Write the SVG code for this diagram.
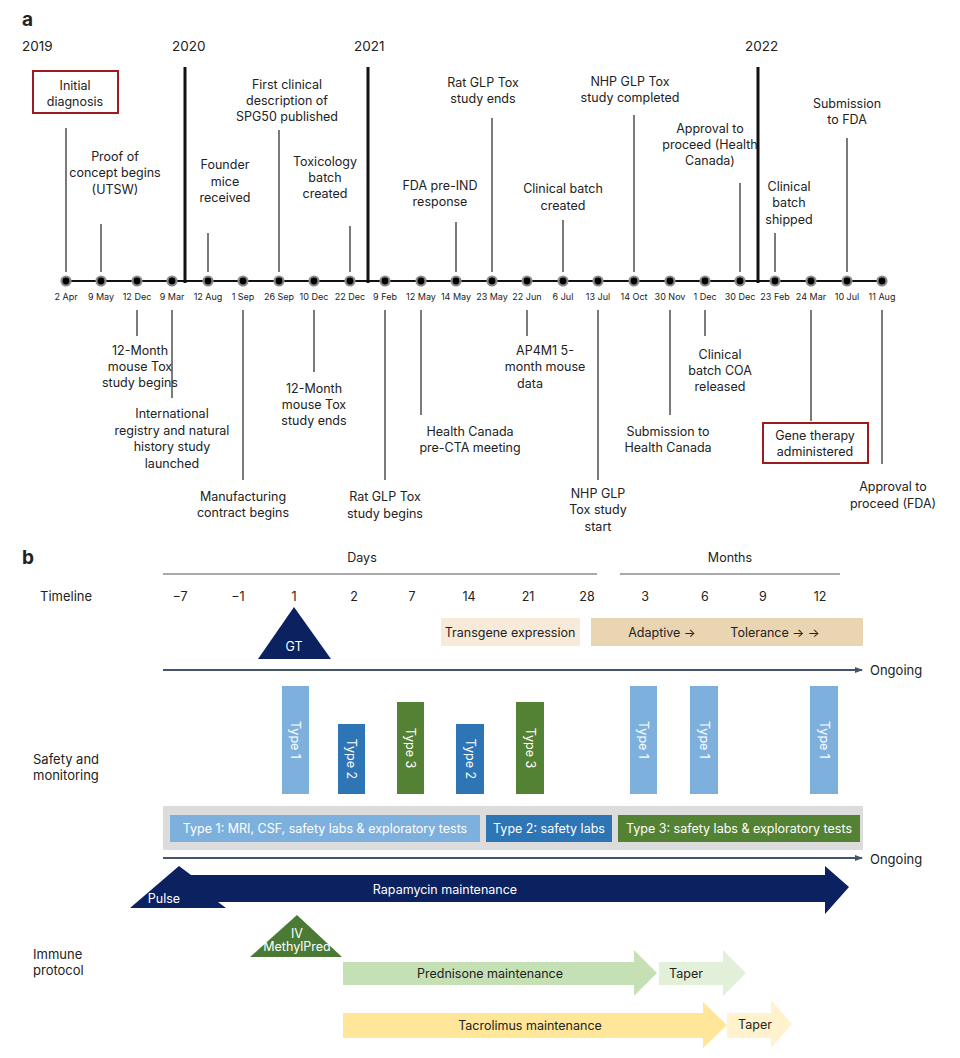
<svg xmlns="http://www.w3.org/2000/svg" width="960" height="1058" viewBox="0 0 960 1058">
<defs>
<style>
text{font-family:Inter,"Liberation Sans",sans-serif;fill:#222}
.l{font-size:12.5px;text-anchor:middle}
.d{font-size:9px;text-anchor:middle}
.y{font-size:13.5px}
.st{stroke:#222;stroke-width:1.2}
.yr{stroke:#111;stroke-width:3}
.n{fill:#000;stroke:#8a8a8a;stroke-width:2.2}
.h{font-size:19px;font-weight:bold}
.w{fill:#fff;font-size:12.5px;text-anchor:middle}
.t1{fill:#7eb0de}.t2{fill:#2e75b6}.t3{fill:#548235}
</style>
<marker id="ar" markerWidth="8" markerHeight="8" refX="7" refY="4" orient="auto" markerUnits="userSpaceOnUse"><path d="M0,1 L8,4 L0,7 Z" fill="#44546a"/></marker>
</defs>
<rect width="960" height="1058" fill="#fff"/>
<text class="h" x="22" y="26">a</text>
<text class="y" x="22" y="51">2019</text><text class="y" x="172" y="51">2020</text><text class="y" x="354" y="51">2021</text><text class="y" x="745" y="51">2022</text>
<g id="connectors">
<line x1="66" y1="281" x2="882" y2="281" stroke="#111" stroke-width="2"/>
<line class="yr" x1="185" y1="67" x2="185" y2="283"/><line class="yr" x1="368" y1="67" x2="368" y2="283"/><line class="yr" x1="758" y1="67" x2="758" y2="283"/>
<g class="st">
<line x1="66" y1="128" x2="66" y2="272"/><line x1="101" y1="224" x2="101" y2="272"/><line x1="208" y1="233" x2="208" y2="272"/><line x1="279" y1="130" x2="279" y2="272"/><line x1="350" y1="226" x2="350" y2="272"/><line x1="456" y1="222" x2="456" y2="272"/><line x1="492" y1="118" x2="492" y2="272"/><line x1="563" y1="220" x2="563" y2="272"/><line x1="634" y1="115" x2="634" y2="272"/><line x1="740" y1="183" x2="740" y2="272"/><line x1="775" y1="233" x2="775" y2="272"/><line x1="847" y1="138" x2="847" y2="272"/>
<line x1="137" y1="310" x2="137" y2="336"/><line x1="172" y1="310" x2="172" y2="398"/><line x1="243" y1="310" x2="243" y2="480"/><line x1="314" y1="310" x2="314" y2="372"/><line x1="385" y1="310" x2="385" y2="480"/><line x1="421" y1="310" x2="421" y2="415"/><line x1="527" y1="310" x2="527" y2="336"/><line x1="598" y1="310" x2="598" y2="480"/><line x1="670" y1="310" x2="670" y2="415"/><line x1="705" y1="310" x2="705" y2="336"/><line x1="811" y1="310" x2="811" y2="421"/><line x1="882" y1="310" x2="882" y2="464"/>
</g>
<line x1="163" y1="670" x2="862" y2="670" stroke="#44546a" stroke-width="2" marker-end="url(#ar)"/>
<line x1="163" y1="858" x2="862" y2="858" stroke="#44546a" stroke-width="2" marker-end="url(#ar)"/>
</g>
<g id="nodes">
<g><circle class="n" cx="66" cy="281" r="4.5"/><circle class="n" cx="101" cy="281" r="4.5"/><circle class="n" cx="137" cy="281" r="4.5"/><circle class="n" cx="172" cy="281" r="4.5"/><circle class="n" cx="208" cy="281" r="4.5"/><circle class="n" cx="243" cy="281" r="4.5"/><circle class="n" cx="279" cy="281" r="4.5"/><circle class="n" cx="314" cy="281" r="4.5"/><circle class="n" cx="350" cy="281" r="4.5"/><circle class="n" cx="385" cy="281" r="4.5"/><circle class="n" cx="421" cy="281" r="4.5"/><circle class="n" cx="456" cy="281" r="4.5"/><circle class="n" cx="492" cy="281" r="4.5"/><circle class="n" cx="527" cy="281" r="4.5"/><circle class="n" cx="563" cy="281" r="4.5"/><circle class="n" cx="598" cy="281" r="4.5"/><circle class="n" cx="634" cy="281" r="4.5"/><circle class="n" cx="670" cy="281" r="4.5"/><circle class="n" cx="705" cy="281" r="4.5"/><circle class="n" cx="740" cy="281" r="4.5"/><circle class="n" cx="775" cy="281" r="4.5"/><circle class="n" cx="811" cy="281" r="4.5"/><circle class="n" cx="847" cy="281" r="4.5"/><circle class="n" cx="882" cy="281" r="4.5"/></g>
<g><text class="d" x="66" y="300">2 Apr</text><text class="d" x="101" y="300">9 May</text><text class="d" x="137" y="300">12 Dec</text><text class="d" x="172" y="300">9 Mar</text><text class="d" x="208" y="300">12 Aug</text><text class="d" x="243" y="300">1 Sep</text><text class="d" x="279" y="300">26 Sep</text><text class="d" x="314" y="300">10 Dec</text><text class="d" x="350" y="300">22 Dec</text><text class="d" x="385" y="300">9 Feb</text><text class="d" x="421" y="300">12 May</text><text class="d" x="456" y="300">14 May</text><text class="d" x="492" y="300">23 May</text><text class="d" x="527" y="300">22 Jun</text><text class="d" x="563" y="300">6 Jul</text><text class="d" x="598" y="300">13 Jul</text><text class="d" x="634" y="300">14 Oct</text><text class="d" x="670" y="300">30 Nov</text><text class="d" x="705" y="300">1 Dec</text><text class="d" x="740" y="300">30 Dec</text><text class="d" x="775" y="300">23 Feb</text><text class="d" x="811" y="300">24 Mar</text><text class="d" x="847" y="300">10 Jul</text><text class="d" x="882" y="300">11 Aug</text></g>
<g id="n-diag"><rect x="33" y="71" width="85" height="42" fill="none" stroke="#9b1b1f" stroke-width="2"/><text class="l" x="75" y="90">Initial</text><text class="l" x="75" y="106">diagnosis</text></g>
<g id="n-poc"><text class="l" x="115" y="161">Proof of</text><text class="l" x="115" y="177">concept begins</text><text class="l" x="115" y="194">(UTSW)</text></g>
<g id="n-founder"><text class="l" x="225" y="169">Founder</text><text class="l" x="225" y="186">mice</text><text class="l" x="225" y="202">received</text></g>
<g id="n-first"><text class="l" x="287" y="89">First clinical</text><text class="l" x="287" y="105">description of</text><text class="l" x="287" y="121">SPG50 published</text></g>
<g id="n-toxb"><text class="l" x="325" y="166">Toxicology</text><text class="l" x="325" y="182">batch</text><text class="l" x="325" y="198">created</text></g>
<g id="n-fda"><text class="l" x="440" y="190">FDA pre-IND</text><text class="l" x="440" y="206">response</text></g>
<g id="n-ratend"><text class="l" x="483" y="87">Rat GLP Tox</text><text class="l" x="483" y="103">study ends</text></g>
<g id="n-cbatch"><text class="l" x="563" y="193">Clinical batch</text><text class="l" x="563" y="210">created</text></g>
<g id="n-nhpc"><text class="l" x="630" y="86">NHP GLP Tox</text><text class="l" x="630" y="102">study completed</text></g>
<g id="n-hc"><text class="l" x="710" y="133">Approval to</text><text class="l" x="710" y="149">proceed (Health</text><text class="l" x="710" y="165">Canada)</text></g>
<g id="n-ship"><text class="l" x="789" y="191">Clinical</text><text class="l" x="789" y="207">batch</text><text class="l" x="789" y="224">shipped</text></g>
<g id="n-subfda"><text class="l" x="847" y="108">Submission</text><text class="l" x="847" y="124">to FDA</text></g>
<g id="n-mtox"><text class="l" x="140" y="355">12-Month</text><text class="l" x="140" y="371">mouse Tox</text><text class="l" x="140" y="387">study begins</text></g>
<g id="n-reg"><text class="l" x="172" y="418">International</text><text class="l" x="172" y="435">registry and natural</text><text class="l" x="172" y="451">history study</text><text class="l" x="172" y="468">launched</text></g>
<g id="n-manu"><text class="l" x="243" y="501">Manufacturing</text><text class="l" x="243" y="517">contract begins</text></g>
<g id="n-mtoxe"><text class="l" x="314" y="393">12-Month</text><text class="l" x="314" y="409">mouse Tox</text><text class="l" x="314" y="425">study ends</text></g>
<g id="n-ratb"><text class="l" x="385" y="501">Rat GLP Tox</text><text class="l" x="385" y="518">study begins</text></g>
<g id="n-cta"><text class="l" x="470" y="436">Health Canada</text><text class="l" x="470" y="452">pre-CTA meeting</text></g>
<g id="n-ap4"><text class="l" x="545" y="355">AP4M1 5-</text><text class="l" x="545" y="371">month mouse</text><text class="l" x="530" y="388">data</text></g>
<g id="n-nhps"><text class="l" x="598" y="498">NHP GLP</text><text class="l" x="598" y="514">Tox study</text><text class="l" x="598" y="531">start</text></g>
<g id="n-subhc"><text class="l" x="668" y="436">Submission to</text><text class="l" x="668" y="452">Health Canada</text></g>
<g id="n-coa"><text class="l" x="720" y="359">Clinical</text><text class="l" x="720" y="375">batch COA</text><text class="l" x="720" y="391">released</text></g>
<g id="n-gt"><rect x="763" y="423" width="105" height="40" fill="none" stroke="#9b1b1f" stroke-width="2"/><text class="l" x="815" y="440">Gene therapy</text><text class="l" x="815" y="456">administered</text></g>
<g id="n-appfda"><text class="l" x="893" y="491">Approval to</text><text class="l" x="893" y="508">proceed (FDA)</text></g>

<text class="h" x="22" y="564">b</text>
<text class="l" x="362" y="562">Days</text><line x1="163" y1="574" x2="597" y2="574" stroke="#555"/>
<text class="l" x="730" y="562">Months</text><line x1="620" y1="574" x2="840" y2="574" stroke="#555"/>
<text x="40" y="601" font-size="13">Timeline</text>
<g><text class="l" x="180" y="601">−7</text><text class="l" x="238" y="601">−1</text><text class="l" x="294" y="601">1</text><text class="l" x="354" y="601">2</text><text class="l" x="412" y="601">7</text><text class="l" x="469" y="601">14</text><text class="l" x="528" y="601">21</text><text class="l" x="587" y="601">28</text><text class="l" x="645" y="601">3</text><text class="l" x="705" y="601">6</text><text class="l" x="763" y="601">9</text><text class="l" x="820" y="601">12</text></g>
<g id="n-gtri"><polygon points="294,607 258,659 331,659" fill="#0b2160"/><text class="w" x="294" y="651">GT</text></g>
<g id="n-trans"><rect x="441" y="618" width="139" height="28" fill="#f7ead8"/><text class="l" x="510" y="637" font-size="11">Transgene expression</text></g>
<g id="n-adapt"><rect x="591" y="618" width="272" height="28" fill="#ead5b3"/><text class="l" x="662" y="637" font-size="11">Adaptive →</text><text class="l" x="775" y="637" font-size="11">Tolerance → →</text></g>
<text x="870" y="675" font-size="13">Ongoing</text>
<text x="870" y="864" font-size="13">Ongoing</text>
<text x="33" y="764" font-size="13">Safety and</text><text x="33" y="780" font-size="13">monitoring</text>
<g id="bars">
<rect class="t1" x="282" y="686" width="27" height="108"/><text class="w" transform="translate(291,740) rotate(90)">Type 1</text>
<rect class="t2" x="338" y="724" width="27" height="70"/><text class="w" transform="translate(347,759) rotate(90)">Type 2</text>
<rect class="t3" x="397" y="702" width="27" height="92"/><text class="w" transform="translate(406,748) rotate(90)">Type 3</text>
<rect class="t2" x="456" y="724" width="28" height="70"/><text class="w" transform="translate(466,759) rotate(90)">Type 2</text>
<rect class="t3" x="516" y="702" width="28" height="92"/><text class="w" transform="translate(526,748) rotate(90)">Type 3</text>
<rect class="t1" x="630" y="686" width="27" height="108"/><text class="w" transform="translate(639,740) rotate(90)">Type 1</text>
<rect class="t1" x="690" y="686" width="28" height="108"/><text class="w" transform="translate(700,740) rotate(90)">Type 1</text>
<rect class="t1" x="810" y="686" width="28" height="108"/><text class="w" transform="translate(820,740) rotate(90)">Type 1</text>
</g>
<g id="legend"><rect x="163" y="806" width="700" height="44" fill="#dcdcdc"/>
<rect class="t1" x="170" y="815" width="310" height="27"/><text class="w" x="325" y="833">Type 1: MRI, CSF, safety labs &amp; exploratory tests</text>
<rect class="t2" x="486" y="815" width="126" height="27"/><text class="w" x="549" y="833">Type 2: safety labs</text>
<rect class="t3" x="618" y="815" width="242" height="27"/><text class="w" x="739" y="833">Type 3: safety labs &amp; exploratory tests</text></g>
<text x="33" y="959" font-size="13">Immune</text><text x="33" y="975" font-size="13">protocol</text>
<g id="n-rapa"><polygon points="130,908 179,866 191,875 825,875 825,866 849,887 825,914 825,902 218,902 226,908" fill="#0b2160"/><text class="w" x="164" y="903">Pulse</text><text class="w" x="445" y="894" font-size="13">Rapamycin maintenance</text></g>
<g id="n-ivm"><polygon points="297,915 250,957 342,957" fill="#4a7a34"/><text class="w" x="297" y="938" font-size="10.5">IV</text><text class="w" x="297" y="951" font-size="10.5">MethylPred</text></g>
<g id="n-pred"><polygon points="343,962 634,962 634,950 657,973 634,996 634,985 343,985" fill="#c5e0b4"/><text class="l" x="490" y="978">Prednisone maintenance</text></g>
<g id="n-pt"><polygon points="659,962 723,962 723,950 746,973 723,996 723,985 659,985" fill="#e2efd9"/><text class="l" x="686" y="978">Taper</text></g>
<g id="n-tac"><polygon points="343,1013 703,1013 703,1002 727,1025 703,1048 703,1038 343,1038" fill="#ffe699"/><text class="l" x="530" y="1030">Tacrolimus maintenance</text></g>
<g id="n-tt"><polygon points="727,1013 771,1013 771,1000 792,1024 771,1048 771,1038 727,1038" fill="#fff2cc"/><text class="l" x="755" y="1029">Taper</text></g>
</g>
</svg>
